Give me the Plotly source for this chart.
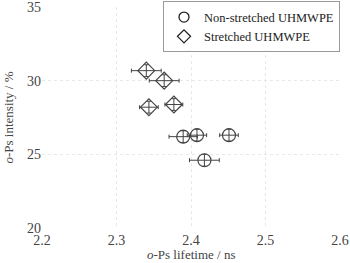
import plotly.graph_objects as go

ns_x = [2.3895, 2.408, 2.451, 2.418]
ns_y = [26.2, 26.3, 26.3, 24.6]
ns_xerr = [0.019, 0.013, 0.0125, 0.02]
ns_yerr = [0.4, 0.4, 0.4, 0.4]

st_x = [2.340, 2.364, 2.3435, 2.377]
st_y = [30.68, 30.0, 28.2, 28.38]
st_xerr = [0.02, 0.02, 0.0125, 0.012]
st_yerr = [0.4, 0.4, 0.4, 0.4]

x_ticks = [2.2, 2.3, 2.4, 2.5, 2.6]
y_ticks = [20, 25, 30, 35]

x_title = "<i>o</i>-Ps lifetime / ns"
y_title = "<i>o</i>-Ps intensity / %"

font = "Liberation Serif, 'Times New Roman', serif"
mc = "#444444"

fig = go.Figure()
series = [
    ("Non-stretched UHMWPE", ns_x, ns_y, ns_xerr, ns_yerr, "circle-open"),
    ("Stretched UHMWPE", st_x, st_y, st_xerr, st_yerr, "diamond-open"),
]
for name, xs, ys, xe, ye, sym in series:
    fig.add_trace(go.Scatter(
        x=xs, y=ys, mode="markers", name=name, showlegend=False,
        marker=dict(symbol=sym, size=13, color=mc, line=dict(width=1.2, color=mc)),
        error_x=dict(type="data", array=xe, color=mc, thickness=1, width=2),
        error_y=dict(type="data", array=ye, color=mc, thickness=1, width=2),
    ))
for name, xs, ys, xe, ye, sym in series:
    fig.add_trace(go.Scatter(
        x=[None], y=[None], mode="markers", name=name,
        marker=dict(symbol=sym, size=10, color="#222222", line=dict(width=1.3, color="#222222")),
    ))

fig.update_layout(
    width=350, height=263,
    margin=dict(l=42, r=10, t=7, b=35, autoexpand=False),
    paper_bgcolor="white", plot_bgcolor="white",
    font=dict(family=font, size=14, color="#444444"),
    showlegend=True,
    legend=dict(x=1, y=1.025, xanchor="right", yanchor="top",
                bordercolor="#999999", borderwidth=1, bgcolor="white",
                font=dict(family=font, size=12.5, color="#222222"),
                itemwidth=30, tracegroupgap=0),
    annotations=[
        dict(text=x_title, xref="paper", yref="paper", x=0.5, y=-0.118,
             xanchor="center", yanchor="middle", showarrow=False,
             font=dict(family=font, size=13, color="#444444")),
        dict(text=y_title, xref="paper", yref="paper", x=-0.114, y=0.5,
             xanchor="center", yanchor="middle", showarrow=False, textangle=-90,
             font=dict(family=font, size=13, color="#444444")),
    ],
)
fig.update_xaxes(range=[2.2, 2.6], tickvals=x_ticks, ticktext=[f"{v:.1f}" for v in x_ticks],
                 showgrid=True, gridcolor="#e8e8e8", griddash="dot", zeroline=False,
                 showline=False, ticks="", automargin=False, ticklabeloverflow="allow",
                 ticklabelstandoff=2)
fig.update_yaxes(range=[20, 35], tickvals=y_ticks,
                 showgrid=True, gridcolor="#e8e8e8", griddash="dot", zeroline=False,
                 showline=False, ticks="", automargin=False, ticklabeloverflow="allow")

fig.write_html("out.html", config={"displayModeBar": False},
               post_script="document.body.style.margin='0';document.body.style.overflow='hidden';")
